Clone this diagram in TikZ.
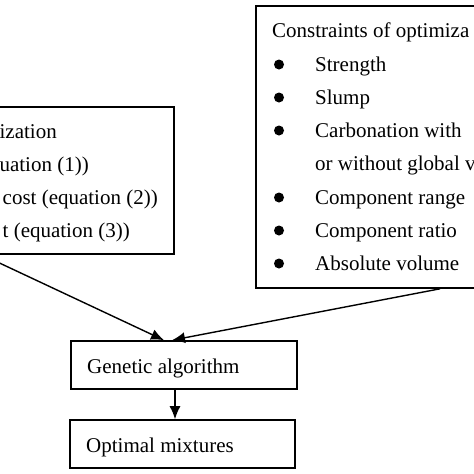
\documentclass[tikz,border=0pt]{standalone}
\usepackage{fontspec}
\setmainfont{Liberation Serif}
\usetikzlibrary{arrows.meta}
\begin{document}
\begin{tikzpicture}[x=1pt,y=-1pt,
  box/.style={draw=black,line width=1.6pt,inner sep=0pt},
  txt/.style={inner sep=0pt,font=\fontsize{21}{25}\selectfont},
  conn/.style={line width=1.4pt,-{Latex[length=13pt,width=11pt]}},
  dot/.style={circle,fill=black,inner sep=0pt,minimum size=10pt}]
\useasboundingbox (0,0) rectangle (474,474);
\clip (0,0) rectangle (474,474);
% boxes
\node[box,minimum width=384pt,minimum height=147pt] (lbox) at (-18,180.5) {};
\node[box,minimum width=368pt,minimum height=282pt] (rbox) at (440,147) {};
\node[box,minimum width=226pt,minimum height=48pt] (ga) at (184,365) {};
\node[box,minimum width=225pt,minimum height=48pt] (om) at (182.5,444) {};
% left box text
\node[txt,anchor=base east] (l1) at (57,138) {ization};
\node[txt,anchor=base east] (l2) at (89,171) {uation (1))};
\node[txt,anchor=base east] (l3) at (158,204) {cost (equation (2))};
\node[txt,anchor=base east] (l4) at (130,237) {t (equation (3))};
% right box text
\node[txt,anchor=base west] (r0) at (272,37) {Constraints of optimiza};
\node[txt,anchor=base west] (r1) at (315,71) {Strength};
\node[txt,anchor=base west] (r2) at (315,104) {Slump};
\node[txt,anchor=base west] (r3) at (315,137) {Carbonation with};
\node[txt,anchor=base west] (r3b) at (315,170) {or without global v};
\node[txt,anchor=base west] (r4) at (315,204) {Component range};
\node[txt,anchor=base west] (r5) at (315,237) {Component ratio};
\node[txt,anchor=base west] (r6) at (315,270) {Absolute volume};
\foreach \y/\n in {64.5/b1,97.5/b2,130.5/b3,197.5/b4,230.5/b5,263.5/b6}
  \node[dot] (\n) at (279,\y) {};
% texts of lower boxes
\node[txt,anchor=base west] (gat) at (87,373) {Genetic algorithm};
\node[txt,anchor=base west] (omt) at (86,452) {Optimal mixtures};
% connectors
\coordinate (galin) at ([xshift=-20pt]ga.north);
\coordinate (garin) at ([xshift=-12pt]ga.north);
\draw[conn] (lbox.south) -- (galin);
\draw[conn] (rbox.south) -- (garin);
\draw[conn] (ga.south -| 175,0) -- (om.north -| 175,0);
\end{tikzpicture}
\end{document}
